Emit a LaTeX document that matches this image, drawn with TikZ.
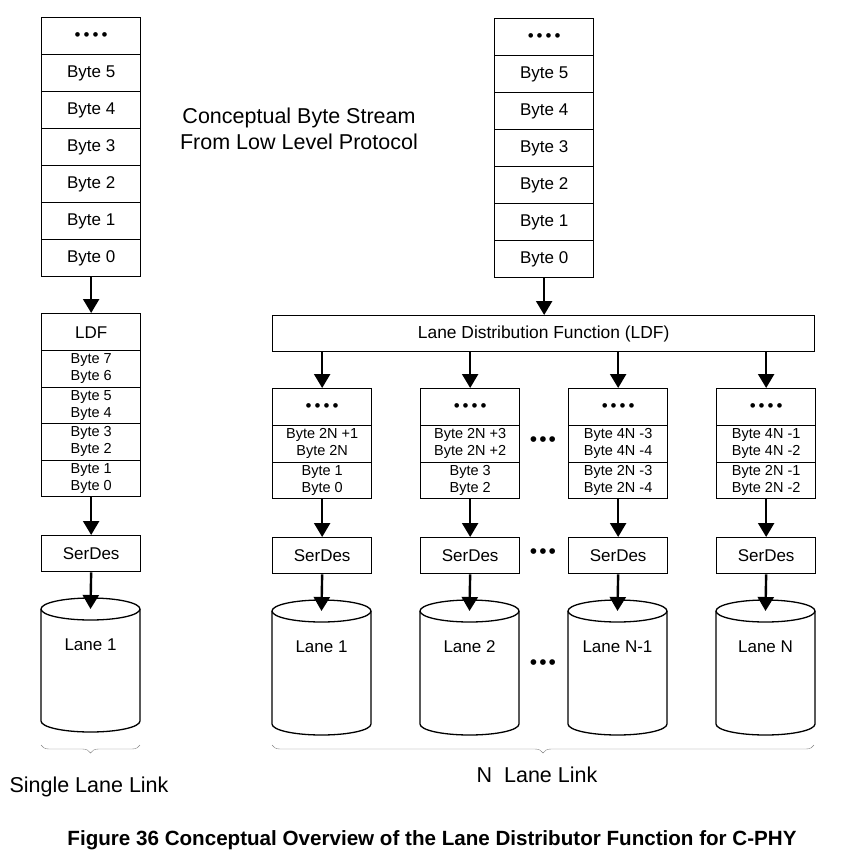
\documentclass[tikz,border=0pt]{standalone}
\usepackage{fontspec}
\setmainfont{Liberation Sans}
\usetikzlibrary{arrows.meta,decorations.pathreplacing}
\newcommand{\mycyl}[3]{% cx, ytop, ybot
  \draw[line width=1.3pt,fill=white] ({#1-49.5},{#2+11}) -- ({#1-49.5},{#3-11}) arc[start angle=180,end angle=0,x radius=49.5,y radius=11] -- ({#1+49.5},{#2+11});
  \draw[line width=1.3pt] (#1,{#2+11}) ellipse[x radius=49.5,y radius=11];}
\newcommand{\fdots}{\textbullet\hspace{3pt}\textbullet\hspace{3pt}\textbullet\hspace{3pt}\textbullet}
\begin{document}
\begin{tikzpicture}[x=1pt,y=-1pt,
  bx/.style={draw,line width=1.3pt,minimum width=99pt,inner sep=0pt,font=\fontsize{17}{18}\selectfont,anchor=north west},
  pr/.style={bx,minimum height=36.5pt,align=center,font=\fontsize{14.5}{17}\selectfont},
  ar/.style={line width=2.4pt,-{Triangle[width=16pt,length=14pt]}},
  dt/.style={font=\fontsize{21}{21}\selectfont}]
\useasboundingbox (0,0) rectangle (858,865);
% left stream
\foreach \t [count=\i from 0] in {\fdots,Byte 5,Byte 4,Byte 3,Byte 2,Byte 1,Byte 0}
  \node[bx,minimum height=37pt] (ls\i) at (41,{17+37*\i}) {\t};
\node[bx,minimum height=37pt] (lldf) at (41,313) {LDF};
\node[pr] (lp1) at (41,350) {Byte 7\\Byte 6};
\node[pr] (lp2) at (41,386.5) {Byte 5\\Byte 4};
\node[pr] (lp3) at (41,423) {Byte 3\\Byte 2};
\node[pr] (lp4) at (41,459.5) {Byte 1\\Byte 0};
\node[bx,minimum height=36pt] (lsd) at (41,535) {SerDes};
\mycyl{90.5}{598}{732}
\node[font=\fontsize{17}{17}\selectfont] (lcl) at (90.5,645) {Lane 1};
\coordinate (lct) at (90.5,609);
\draw[ar] (ls6.south) -- (lldf.north);
\draw[ar] (lp4.south) -- (lsd.north);
\draw[ar] (lsd.south) -- (lct);
\draw[gray,decorate,decoration={brace,mirror,amplitude=8pt}] (41,745) -- (140,745);
\node[font=\fontsize{21.5}{22}\selectfont] (sll) at (89,787) {Single Lane Link};
\node[align=center,font=\fontsize{21.5}{26}\selectfont] (cbs) at (299,129) {Conceptual Byte Stream\\From Low Level Protocol};
% right stream
\foreach \t [count=\i from 0] in {\fdots,Byte 5,Byte 4,Byte 3,Byte 2,Byte 1,Byte 0}
  \node[bx,minimum height=37pt] (rs\i) at (494,{18+37*\i}) {\t};
\node[draw,line width=1.3pt,minimum width=542pt,minimum height=36pt,anchor=north west,font=\fontsize{17.4}{18}\selectfont] (ldf) at (272,315) {Lane Distribution Function (LDF)};
\draw[ar] (rs6.south) -- (ldf.north-|rs6.south);
\foreach \x/\n/\a/\b/\c/\d/\L in {272/1/Byte 2N +1/Byte 2N/Byte 1/Byte 0/Lane 1,420/2/Byte 2N +3/Byte 2N +2/Byte 3/Byte 2/Lane 2,568/3/Byte 4N -3/Byte 4N -4/Byte 2N -3/Byte 2N -4/Lane N-1,716/4/Byte 4N -1/Byte 4N -2/Byte 2N -1/Byte 2N -2/Lane N}{
  \node[bx,minimum height=37pt] (d\n) at (\x,388) {\fdots};
  \node[pr] (p\n) at (\x,425) {\a\\\b};
  \node[pr] (q\n) at (\x,461.5) {\c\\\d};
  \node[bx,minimum height=36pt] (s\n) at (\x,537) {SerDes};
  \mycyl{\x+49.5}{600}{735}
  \node[font=\fontsize{17}{17}\selectfont] (cl\n) at (\x+49.5,647) {\L};
  \coordinate (ct\n) at (\x+49.5,611);
  \draw[ar] (ldf.south-|d\n.north) -- (d\n.north);
  \draw[ar] (q\n.south) -- (s\n.north);
  \draw[ar] (s\n.south) -- (ct\n);
}
\node[dt] (e1) at (543,442) {\textbullet\hspace{2pt}\textbullet\hspace{2pt}\textbullet};
\node[dt] (e2) at (543,554) {\textbullet\hspace{2pt}\textbullet\hspace{2pt}\textbullet};
\node[dt] (e3) at (543,665) {\textbullet\hspace{2pt}\textbullet\hspace{2pt}\textbullet};
\draw[gray,decorate,decoration={brace,mirror,amplitude=8pt}] (272,745) -- (814,745);
\node[font=\fontsize{21.5}{22}\selectfont] (nll) at (537,775) {N\ \ Lane Link};
\node[font=\bfseries\fontsize{20.6}{22}\selectfont] (cap) at (432,840) {Figure 36 Conceptual Overview of the Lane Distributor Function for C-PHY};
\end{tikzpicture}
\end{document}
